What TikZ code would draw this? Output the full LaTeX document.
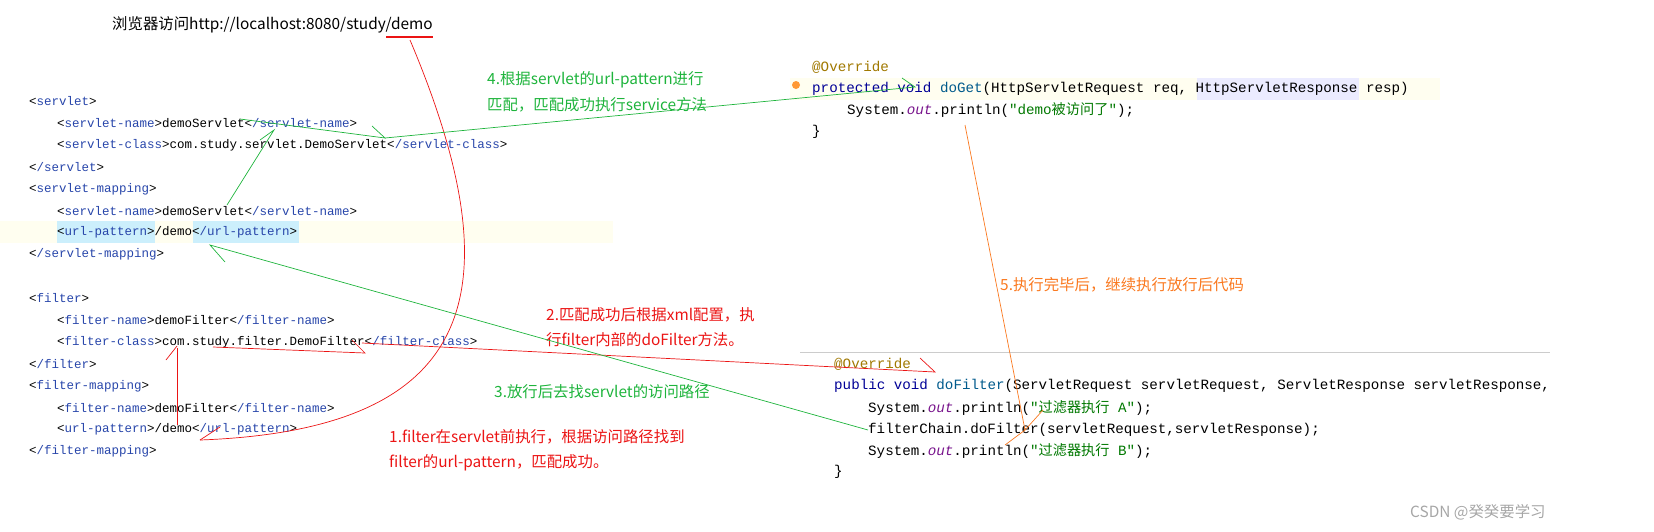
\documentclass[tikz,border=0pt]{standalone}
\usepackage{fontspec}
\setmonofont{Liberation Mono}
\newfontfamily\cjk{Noto Sans CJK SC}
\definecolor{tg}{RGB}{40,70,170}
\definecolor{ann}{RGB}{160,120,0}
\definecolor{str}{RGB}{0,120,0}
\definecolor{kw}{RGB}{0,0,150}
\definecolor{fn}{RGB}{0,90,140}
\definecolor{ob}{RGB}{120,20,140}
\definecolor{gn}{RGB}{30,180,60}
\definecolor{rd}{RGB}{235,20,20}
\definecolor{orng}{RGB}{250,120,30}
\begin{document}
\begin{tikzpicture}[x=1pt,y=-1pt,
 code/.style={anchor=west,inner sep=0pt,font=\ttfamily\fontsize{12.5}{14}\selectfont},
 rcode/.style={anchor=west,inner sep=0pt,font=\ttfamily\fontsize{14.2}{16}\selectfont},
 note/.style={anchor=west,inner sep=0pt,font=\cjk\fontsize{15.4}{17}\selectfont},
 gl/.style={draw=gn,line width=0.7pt},
 rl/.style={draw=rd,line width=0.7pt},
 ol/.style={draw=orng,line width=0.7pt}]
\useasboundingbox (0,0) rectangle (1654,531);
\newcommand\tg[1]{<\textcolor{tg}{#1}>}
% highlights
\fill[yellow!6] (0,221) rectangle (613,243);
\fill[cyan!20] (57,221) rectangle (155,243);
\fill[cyan!20] (193,221) rectangle (299,243);
\fill[yellow!6] (790,78) rectangle (1440,100);
\fill[blue!8] (1197,78) rectangle (1359,100);
\draw[gray!40] (800,352) -- (1550,352);
% title
\node[note] (title) at (112,25) {浏览器访问http://localhost:8080/study/demo};
\draw[rd,line width=1.6pt] (386,37) -- (433,37);
% left code
\node[code] (l1) at (29,101) {\tg{servlet}};
\node[code] (l2) at (57,123) {\tg{servlet-name}demoServlet\tg{/servlet-name}};
\node[code] (l3) at (57,145) {\tg{servlet-class}com.study.servlet.DemoServlet\tg{/servlet-class}};
\node[code] (l4) at (29,167) {\tg{/servlet}};
\node[code] (l5) at (29,189) {\tg{servlet-mapping}};
\node[code] (l6) at (57,211) {\tg{servlet-name}demoServlet\tg{/servlet-name}};
\node[code] (l7) at (57,232) {\tg{url-pattern}/demo\tg{/url-pattern}};
\node[code] (l8) at (29,254) {\tg{/servlet-mapping}};
\node[code] (l9) at (29,298) {\tg{filter}};
\node[code] (l10) at (57,320) {\tg{filter-name}demoFilter\tg{/filter-name}};
\node[code] (l11) at (57,342) {\tg{filter-class}com.study.filter.DemoFilter\tg{/filter-class}};
\node[code] (l12) at (29,364) {\tg{/filter}};
\node[code] (l13) at (29,386) {\tg{filter-mapping}};
\node[code] (l14) at (57,408) {\tg{filter-name}demoFilter\tg{/filter-name}};
\node[code] (l15) at (57,429) {\tg{url-pattern}/demo\tg{/url-pattern}};
\node[code] (l16) at (29,451) {\tg{/filter-mapping}};
% right top code
\node[rcode] (r1) at (812,67) {\textcolor{ann}{@Override}};
\node[rcode] (r2) at (812,89) {\textcolor{kw}{protected void} \textcolor{fn}{doGet}(HttpServletRequest req, HttpServletResponse resp)};
\node[rcode] (r3) at (847,110) {System.\textcolor{ob}{\itshape out}.println(\textcolor{str}{"demo{\cjk 被访问了}"});};
\node[rcode] (r4) at (812,132) {\}};
\fill[orange!80] (796,85) circle (4);
% right bottom code
\node[rcode] (b1) at (834,364) {\textcolor{ann}{@Override}};
\node[rcode] (b2) at (834,386) {\textcolor{kw}{public void} \textcolor{fn}{doFilter}(ServletRequest servletRequest, ServletResponse servletResponse,};
\node[rcode] (b3) at (868,408) {System.\textcolor{ob}{\itshape out}.println(\textcolor{str}{"{\cjk 过滤器执行} A"});};
\node[rcode] (b4) at (868,430) {filterChain.doFilter(servletRequest,servletResponse);};
\node[rcode] (b5) at (868,451) {System.\textcolor{ob}{\itshape out}.println(\textcolor{str}{"{\cjk 过滤器执行} B"});};
\node[rcode] (b6) at (834,472) {\}};
% notes
\node[note,text=gn] (n4a) at (487,80) {4.根据servlet的url-pattern进行};
\node[note,text=gn] (n4b) at (487,105) {匹配，匹配成功执行service方法};
\node[note,text=rd] (n2a) at (546,315) {2.匹配成功后根据xml配置，执};
\node[note,text=rd] (n2b) at (546,340) {行filter内部的doFilter方法。};
\node[note,text=gn] (n3) at (494,392) {3.放行后去找servlet的访问路径};
\node[note,text=rd] (n1a) at (389,437) {1.filter在servlet前执行，根据访问路径找到};
\node[note,text=rd] (n1b) at (389,463) {filter的url-pattern，匹配成功。};
\node[note,text=orng] (n5) at (1000,285) {5.执行完毕后，继续执行放行后代码};
\node[note,text=gray!70] (wm) at (1410,512) {CSDN @癸癸要学习};
% connectors
\coordinate (c1) at (410,40);
\coordinate (c2) at (200,440);
\draw[rl] (c1) .. controls (520,300) and (470,430) .. (c2);
\draw[rl] (c2) -- (220,427);
\draw[rl] (177,348) -- (177,425);
\draw[rl] (177,346) -- (166,360);
\draw[rl] (213,347) -- (365,353) -- (352,340);
\draw[rl] (362,343) -- (935,372) -- (920,358);
\draw[gl] (227,205) -- (274,130) -- (260,140);
\draw[gl] (240,119) -- (385,138) -- (372,126);
\draw[gl] (385,138) -- (915,87) -- (902,78);
\draw[gl] (868,430) -- (210,245) -- (225,262);
\draw[ol] (965,125) -- (1025,430) -- (1043,410);
\draw[ol] (1025,430) -- (1005,445);
\end{tikzpicture}
\end{document}
